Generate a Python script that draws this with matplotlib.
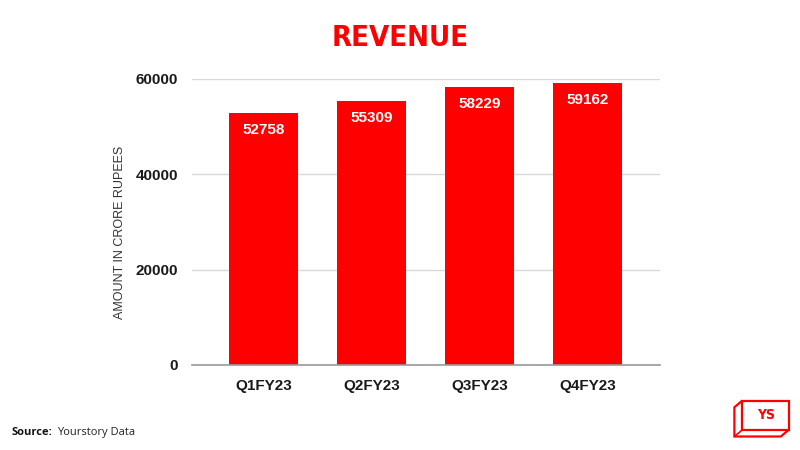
import matplotlib.pyplot as plt
from matplotlib.patches import Rectangle, Polygon

# ---- Data
quarters = ["Q1FY23", "Q2FY23", "Q3FY23", "Q4FY23"]
revenue = [52758, 55309, 58229, 59162]
y_ticks = [0, 20000, 40000, 60000]

RED = "#FF0000"

fig = plt.figure(figsize=(8, 4.5), dpi=100)
ax = fig.add_axes([0.24, 0.1889, 0.585, 0.6356])

x = range(len(quarters))
bars = ax.bar(x, revenue, width=0.64, color=RED, zorder=3)

# value labels inside bar tops
for rect, val in zip(bars, revenue):
    ax.annotate(str(val), (rect.get_x() + rect.get_width() / 2, val),
                xytext=(0, -7), textcoords="offset points",
                ha="center", va="top", color="white", fontsize=11,
                fontweight="bold", family="Liberation Sans", zorder=4)

ax.set_xlim(-0.66, 3.67)
ax.set_ylim(0, 60000)
ax.set_yticks(y_ticks)
ax.set_yticklabels([str(t) for t in y_ticks])
ax.set_xticks(list(x))
ax.set_xticklabels(quarters)

for lbl in ax.get_yticklabels() + ax.get_xticklabels():
    lbl.set_fontfamily("Liberation Sans")
    lbl.set_fontweight("bold")
    lbl.set_fontsize(11)
    lbl.set_color("#1a1a1a")

ax.tick_params(axis="both", length=0)
ax.tick_params(axis="y", pad=10)
ax.tick_params(axis="x", pad=10)

ax.grid(axis="y", color="#d9d9d9", linewidth=1, zorder=0)
for s in ["top", "right", "left"]:
    ax.spines[s].set_visible(False)
ax.spines["bottom"].set_color("#999999")
ax.spines["bottom"].set_linewidth(1.2)
ax.spines["bottom"].set_zorder(4)

ax.set_ylabel("AMOUNT IN CRORE RUPEES", family="Liberation Sans",
              fontsize=9, color="#333333")
ax.yaxis.set_label_coords(-0.142, 0.465)

# title
fig.text(0.5, 0.915, "REVENUE", ha="center", va="center", color=RED,
         fontsize=21, fontweight="bold", fontstretch="condensed",
         family=["DejaVu Sans"])

# source line
t1 = fig.text(0.015, 0.038, "Source:", ha="left", va="center",
              fontsize=8, fontweight="bold", family="Open Sans", color="#111111")
fig.canvas.draw()
bb = t1.get_window_extent()
fig.text(bb.x1 / 800 + 0.005, 0.038, "Yourstory Data", ha="left", va="center",
         fontsize=8, family="Open Sans", color="#222222")

# logo (simple box with "YS")
fig.patches.append(Rectangle((0.928, 0.045), 0.058, 0.065, transform=fig.transFigure,
                             fill=False, edgecolor=RED, linewidth=1.6))
fig.patches.append(Polygon([(0.928, 0.11), (0.918, 0.095), (0.918, 0.03),
                            (0.976, 0.03), (0.986, 0.045)], closed=False,
                           transform=fig.transFigure, fill=False,
                           edgecolor=RED, linewidth=1.6))
fig.patches.append(Polygon([(0.918, 0.03), (0.928, 0.045)], closed=False,
                           transform=fig.transFigure, fill=False,
                           edgecolor=RED, linewidth=1.2))
fig.text(0.957, 0.078, "YS", ha="center", va="center", color=RED,
         fontsize=10, fontweight="bold", fontstretch="condensed",
         family=["DejaVu Sans"])

fig.savefig("out.png", dpi=100)
